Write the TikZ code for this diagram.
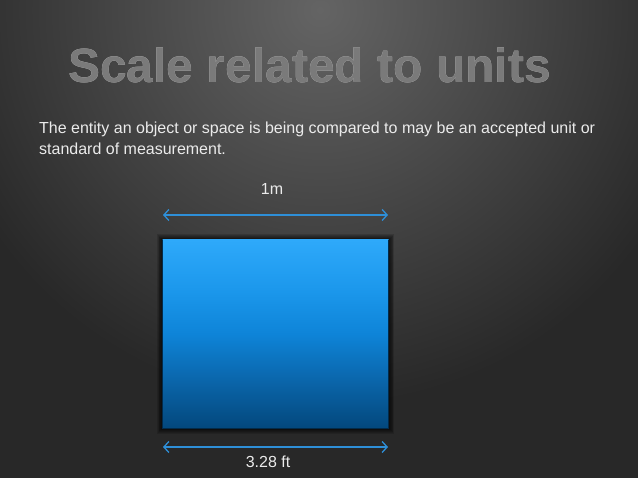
\documentclass[tikz,border=0pt]{standalone}
\usepackage{fontspec}
\setmainfont{Liberation Sans}
\usepackage[outline]{contour}
\usetikzlibrary{arrows.meta}
\definecolor{bgin}{HTML}{646464}
\definecolor{bgmid}{HTML}{3E3E3E}
\definecolor{bgout}{HTML}{282828}
\definecolor{boxtop}{HTML}{2EA9FA}
\definecolor{boxup}{HTML}{1C98EC}
\definecolor{boxmid}{HTML}{0E84D8}
\definecolor{boxlow}{HTML}{0A64A8}
\definecolor{boxbot}{HTML}{03487D}
\definecolor{arrowblue}{HTML}{2E8FD8}
\definecolor{titlefill}{HTML}{7A7A7A}
\definecolor{titleline}{HTML}{D0D0D0}
\pgfdeclareradialshading{bgshade}{\pgfpoint{0bp}{0bp}}{color(0bp)=(bgin); color(7bp)=(bgmid); color(11bp)=(bgout); color(50bp)=(bgout)}
\pgfdeclareverticalshading{boxshade}{100bp}{color(0bp)=(boxbot); color(25bp)=(boxbot); color(37bp)=(boxlow); color(50bp)=(boxmid); color(62bp)=(boxup); color(75bp)=(boxtop); color(100bp)=(boxtop)}
\contourlength{1.1pt}
\tikzset{
  bodytext/.style={text=white!92!black, font=\fontsize{16}{19}\selectfont, inner sep=0pt},
  dimarrow/.style={draw=arrowblue, line width=1.3pt, {Straight Barb[length=5pt,width=11pt]}-{Straight Barb[length=5pt,width=11pt]}},
  boxshadow/.style={fill=black, fill opacity=0.14, draw=none},
}
\begin{document}
\begin{tikzpicture}[x=1pt,y=1pt]
\useasboundingbox (0,-478) rectangle (638,0);
\fill[bgout] (0,-478) rectangle (638,0);
\begin{scope}
\clip (0,-478) rectangle (638,0);
\shade[shading=bgshade] (320,-10) circle (900);
\end{scope}
% title
\node[anchor=base west, inner sep=0pt, font=\fontsize{48}{54}\bfseries\selectfont] (title) at (68,-83)
  {\contour{titleline}{\textcolor{titlefill}{Scale related to units}}};
% body text
\node[bodytext, anchor=base west] (line1) at (39,-133.5) {The entity an object or space is being compared to may be an accepted unit or};
\node[bodytext, anchor=base west] (line2) at (39,-154.5) {standard of measurement.};
% top label and arrow
\node[bodytext, anchor=base] (lbl1) at (272,-195) {1m};
\coordinate (ta) at (163,-215);
\coordinate (tb) at (388,-215);
\draw[dimarrow] (ta) -- (tb);
% square shadow
\foreach \d in {0.8,1.6,...,6.4} {
  \fill[boxshadow] (162.5-\d,-240+\d) rectangle (388.5+\d,-428-\d);
}
% square
\node[minimum width=226pt, minimum height=188pt, inner sep=0pt, outer sep=0pt] (sq) at (275.5,-334) {};
\shade[shading=boxshade] (sq.south west) rectangle (sq.north east);
\draw[boxbot!60!black, line width=0.6pt] (sq.north west) -- (sq.south west) -- (sq.south east) -- (sq.north east);
% bottom arrow and label
\coordinate (ba) at (163,-447);
\coordinate (bb) at (388,-447);
\draw[dimarrow] (ba) -- (bb);
\node[bodytext, anchor=base] (lbl2) at (268,-468) {3.28 ft};
\end{tikzpicture}
\end{document}
